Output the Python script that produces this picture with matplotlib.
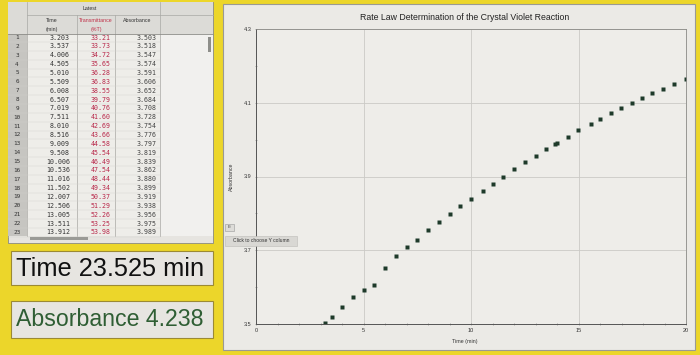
import matplotlib
matplotlib.use('Agg')
import matplotlib.pyplot as plt
from matplotlib.patches import Rectangle
from matplotlib.ticker import MultipleLocator

# table rows visible on screen
row_time = [3.203, 3.537, 4.006, 4.505, 5.010, 5.509, 6.008, 6.507, 7.019, 7.511, 8.010, 8.516,
            9.009, 9.508, 10.006, 10.536, 11.016, 11.502, 12.007, 12.506, 13.005, 13.511, 13.912]
row_trans = [33.21, 33.73, 34.72, 35.65, 36.28, 36.83, 38.55, 39.79, 40.76, 41.60, 42.69, 43.66,
             44.58, 45.54, 46.49, 47.54, 48.44, 49.34, 50.37, 51.29, 52.26, 53.25, 53.98]
row_abs = [3.503, 3.518, 3.547, 3.574, 3.591, 3.606, 3.652, 3.684, 3.708, 3.728, 3.754, 3.776,
           3.797, 3.819, 3.839, 3.862, 3.880, 3.899, 3.919, 3.938, 3.956, 3.975, 3.989]
# further points only seen on the graph
more_time = [14.00, 14.51, 14.98, 15.60, 15.98, 16.49, 16.98, 17.47, 17.96, 18.44, 18.93, 19.45, 19.98]
more_abs = [3.991, 4.008, 4.025, 4.043, 4.056, 4.072, 4.086, 4.100, 4.113, 4.126, 4.137, 4.152, 4.164]

x_ticks = [0, 5, 10, 15, 20]
y_ticks = [3.5, 3.7, 3.9, 4.1, 4.3]

latest_time = 23.525
latest_abs = 4.238

plt.rcParams['font.family'] = ['Liberation Sans', 'DejaVu Sans']

fig = plt.figure(figsize=(7, 3.55), dpi=100)
fig.set_facecolor('#ecd62a')

# background layer in pixel coords
bg = fig.add_axes([0, 0, 1, 1])
bg.set_xlim(0, 700)
bg.set_ylim(355, 0)
bg.axis('off')

def box(a, x0, y0, x1, y1, fc, ec='none', lw=0.6, z=1):
    a.add_patch(Rectangle((x0, y0), x1 - x0, y1 - y0, fc=fc, ec=ec, lw=lw, zorder=z))

# ---- table ----
box(bg, 8, 2, 213, 243, '#e6e4e0', '#8a8a80')
box(bg, 8, 2, 213, 34, '#dcdbd7')
box(bg, 8, 34, 27, 236, '#c6c5c1')
box(bg, 27, 34, 160, 236, '#eeede9')
box(bg, 160, 34, 213, 236, '#f1f0ee')
for xv in [27, 77, 115, 160]:
    bg.plot([xv, xv], [15 if xv in (77, 115) else 2, 236], color='#a8a8a4', lw=0.5, zorder=2)
bg.plot([27, 213], [15, 15], color='#a8a8a4', lw=0.5, zorder=2)
bg.plot([8, 213], [34, 34], color='#8c8c88', lw=0.6, zorder=2)
bg.text(90, 9, 'Latest', fontsize=3.8, ha='center', va='center', color='#333')
bg.text(52, 20, 'Time', fontsize=3.8, ha='center', va='center', color='#333')
bg.text(52, 29, '(min)', fontsize=3.8, ha='center', va='center', color='#333')
bg.text(96, 20, 'Transmittance', fontsize=3.8, ha='center', va='center', color='#c03048')
bg.text(96, 29, '(%T)', fontsize=3.8, ha='center', va='center', color='#c03048')
bg.text(137, 20, 'Absorbance', fontsize=3.8, ha='center', va='center', color='#333')

row_h = 8.86
for i in range(len(row_time)):
    yy = 37.5 + i * row_h
    bg.plot([8, 160], [yy + row_h / 2, yy + row_h / 2], color='#d2d1cd', lw=0.3, zorder=2)
    bg.text(17, yy, str(i + 1), fontsize=4.3, ha='center', va='center', color='#333',
            family='DejaVu Sans Mono')
    bg.text(70, yy, f'{row_time[i]:.3f}', fontsize=4.8, ha='right', va='center', color='#333',
            family='DejaVu Sans Mono')
    bg.text(111, yy, f'{row_trans[i]:.2f}', fontsize=4.8, ha='right', va='center', color='#b8284a',
            family='DejaVu Sans Mono')
    bg.text(157, yy, f'{row_abs[i]:.3f}', fontsize=4.8, ha='right', va='center', color='#444',
            family='DejaVu Sans Mono')
# scrollbars
box(bg, 207.5, 37, 210.5, 52, '#8e8e8a', z=3)
box(bg, 30, 236.5, 88, 239.5, '#9a9a96', z=3)

# ---- readouts ----
box(bg, 11, 251, 213, 285, '#e7e5e1', '#9c8a34', lw=0.8)
bg.text(16, 269, f'Time {latest_time:.3f} min', fontsize=18.3, ha='left', va='center', color='#111')
box(bg, 11, 301, 213, 338, '#e7e5e1', '#9c8a34', lw=0.8)
bg.text(16, 320, f'Absorbance {latest_abs:.3f}', fontsize=16.7, ha='left', va='center',
        color='#2f5e34')

# ---- graph panel ----
box(bg, 223, 4, 695, 350, '#ebeae6', '#9a9a94', lw=0.8)
bg.text(465, 17, 'Rate Law Determination of the Crystal Violet Reaction', fontsize=6.3,
        ha='center', va='center', color='#222')
bg.text(465, 342, 'Time (min)', fontsize=3.8, ha='center', va='center', color='#333')
bg.text(231, 177, 'Absorbance', fontsize=3.8, ha='center', va='center', rotation=90, color='#333')

ax = fig.add_axes([256 / 700, 31 / 355, 430 / 700, 295 / 355])
ax.set_facecolor('#eeede9')
ax.plot(row_time, row_abs, 's', ms=2.4, color='#1e3a2a', mec='none')
ax.plot(more_time, more_abs, 's', ms=2.4, color='#1e3a2a', mec='none')
ax.set_xlim(0, 20)
ax.set_ylim(3.5, 4.3)
ax.set_xticks(x_ticks)
ax.set_yticks(y_ticks)
ax.set_yticklabels([f'{v:.1f}' for v in y_ticks])
ax.xaxis.set_minor_locator(MultipleLocator(1))
ax.yaxis.set_minor_locator(MultipleLocator(0.1))
ax.grid(True, which='major', color='#cbcac6', lw=0.6)
ax.tick_params(which='both', labelsize=4, colors='#777', labelcolor='#333', length=2,
               width=0.4, direction='inout', pad=2)
for side in ['left', 'bottom']:
    ax.spines[side].set_color('#555')
    ax.spines[side].set_linewidth(0.7)
for side in ['top', 'right']:
    ax.spines[side].set_color('#8a8a86')
    ax.spines[side].set_linewidth(0.6)

# overlay for the tooltip that sits on top of the graph
top = fig.add_axes([0, 0, 1, 1])
top.set_xlim(0, 700)
top.set_ylim(355, 0)
top.axis('off')
box(top, 225, 224, 234, 231, '#dddcd8', '#999', lw=0.4, z=3)
top.text(229.5, 227.5, 'E:', fontsize=3, ha='center', va='center', color='#444', zorder=4)
box(top, 225, 236, 297, 246, '#d9d8d4', '#bcbcb8', lw=0.4, z=3)
top.text(261, 241, 'Click to choose Y column', fontsize=3.6, ha='center', va='center',
         color='#333', zorder=4)

fig.savefig('out.png', dpi=100, facecolor=fig.get_facecolor())
